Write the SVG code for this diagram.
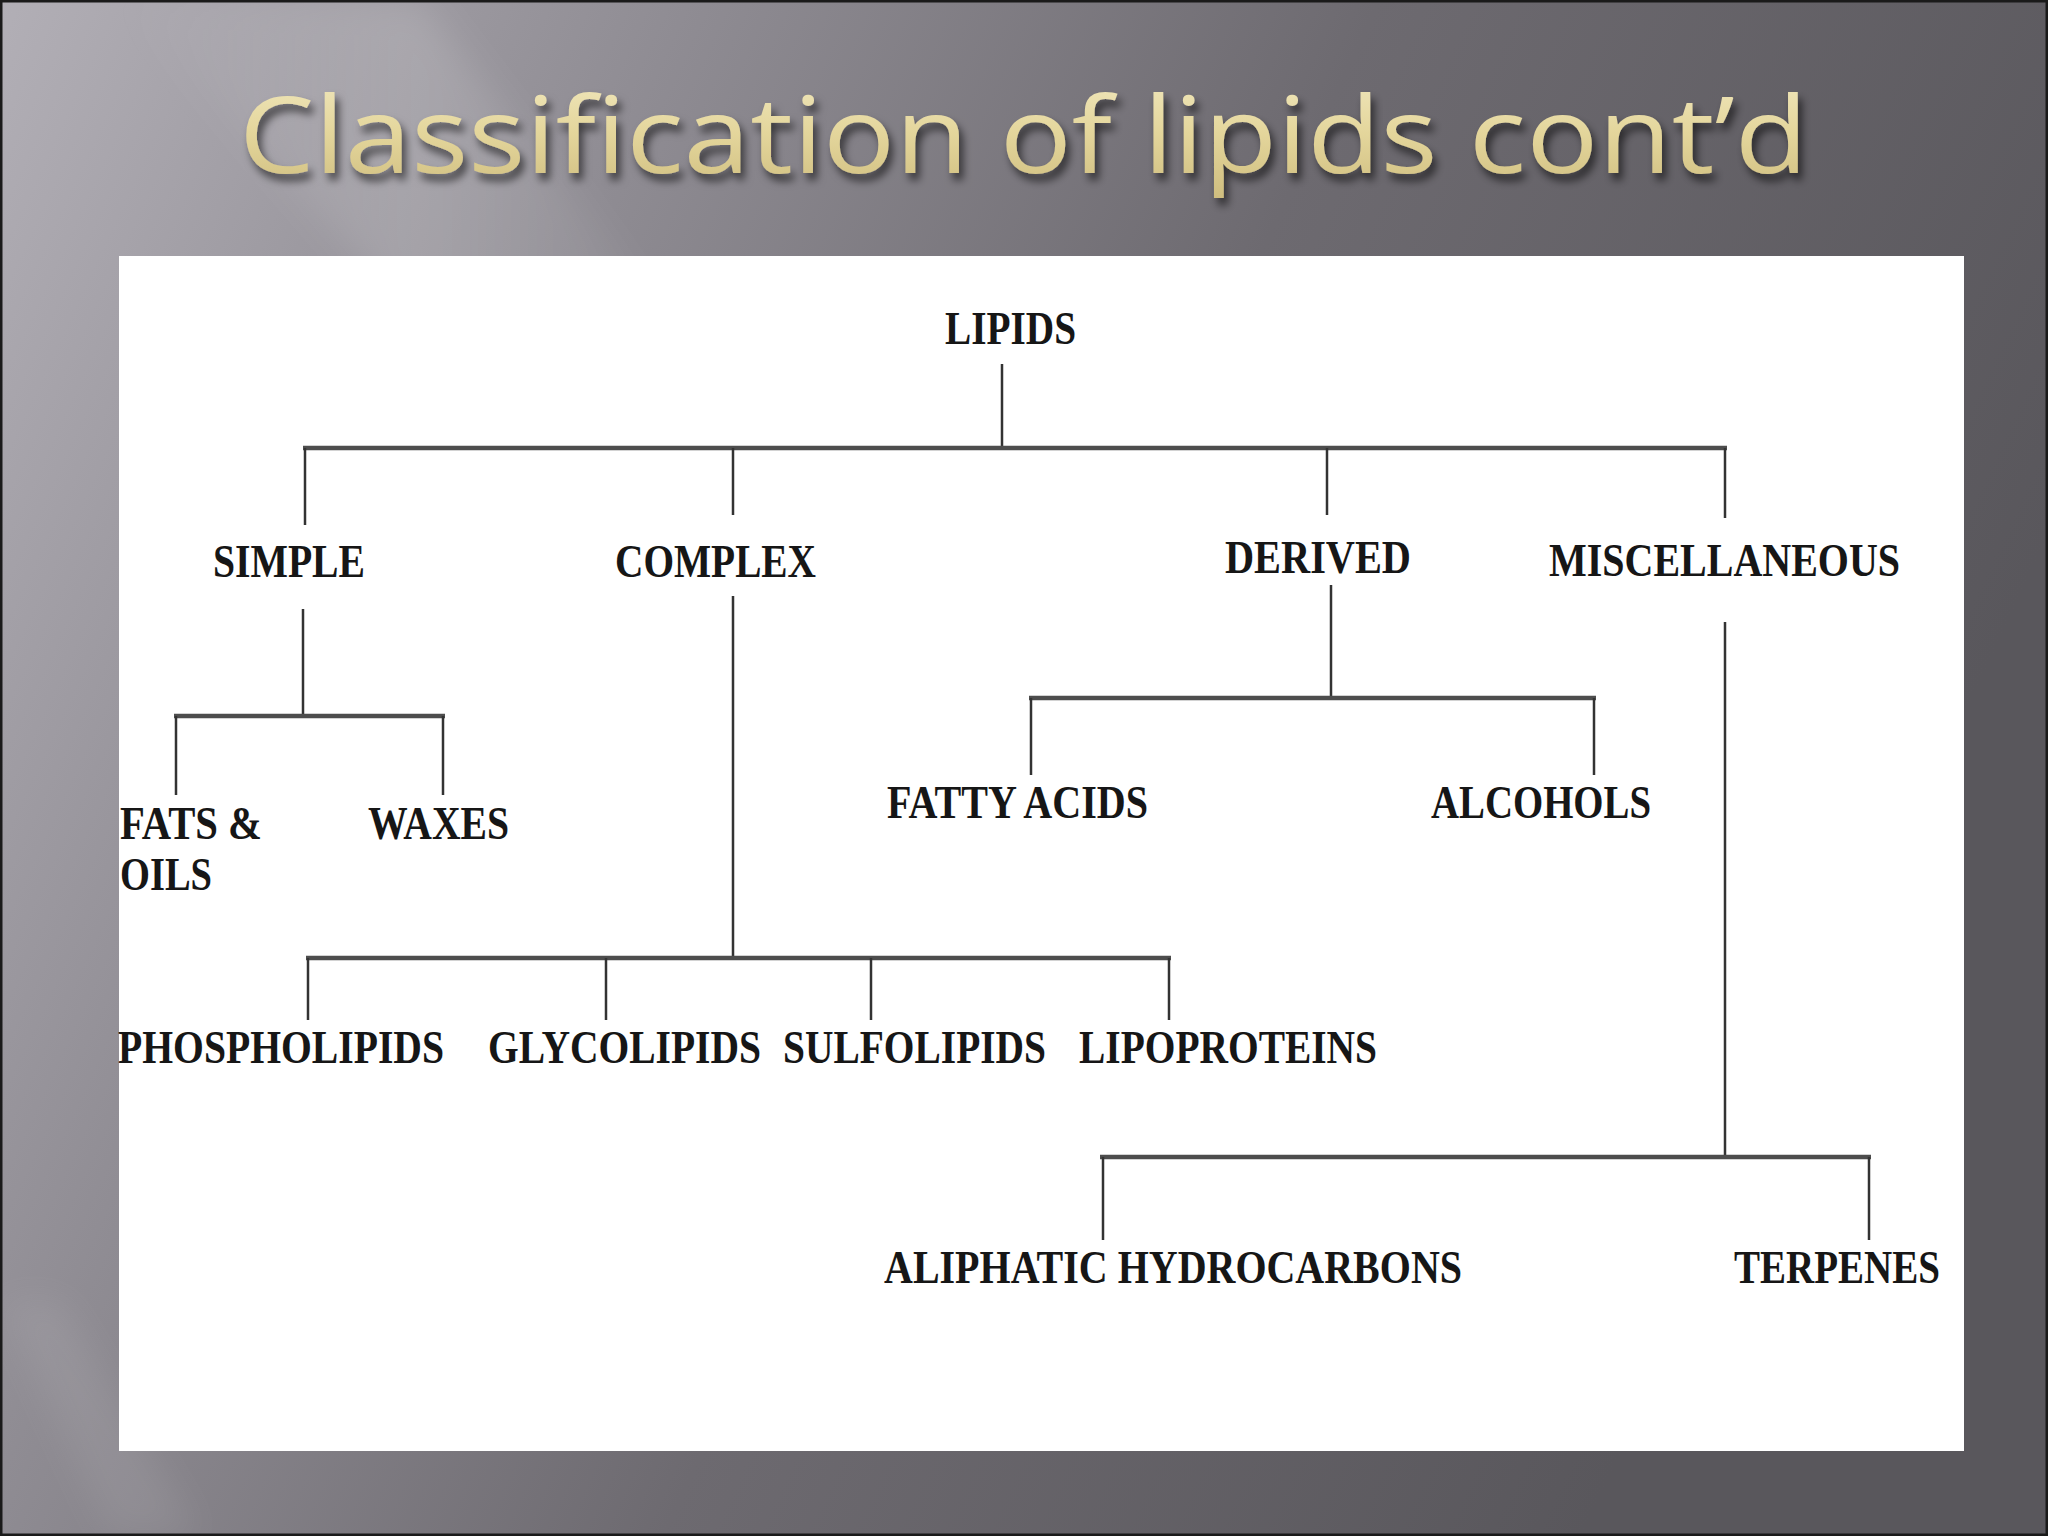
<svg xmlns="http://www.w3.org/2000/svg" width="2048" height="1536" viewBox="0 0 2048 1536">
  <defs>
    <linearGradient id="bg" x1="0" y1="0" x2="1" y2="0.35">
      <stop offset="0" stop-color="#b2afb6"/>
      <stop offset="0.3" stop-color="#8f8c93"/>
      <stop offset="0.6" stop-color="#6d6a70"/>
      <stop offset="1" stop-color="#59575c"/>
    </linearGradient>
    <linearGradient id="band" x1="0" y1="0" x2="1" y2="0">
      <stop offset="0" stop-color="#ffffff" stop-opacity="0"/>
      <stop offset="0.5" stop-color="#ffffff" stop-opacity="0.14"/>
      <stop offset="1" stop-color="#ffffff" stop-opacity="0"/>
    </linearGradient>
    <linearGradient id="gold" x1="0" y1="0" x2="0" y2="1">
      <stop offset="0" stop-color="#f3ebc4"/>
      <stop offset="0.5" stop-color="#e4d69c"/>
      <stop offset="1" stop-color="#cdbb7c"/>
    </linearGradient>
    <filter id="shadow" x="-5%" y="-20%" width="110%" height="150%">
      <feDropShadow dx="4" dy="7" stdDeviation="4" flood-color="#000" flood-opacity="0.6"/>
    </filter>
    <filter id="soft" x="-50%" y="-50%" width="200%" height="200%">
      <feGaussianBlur stdDeviation="18"/>
    </filter>
    <style>
      .lbl { font-family: "Liberation Serif", "Times New Roman", serif; font-size: 47px; font-weight: bold; fill: #161616; }
      .v { stroke: #333; stroke-width: 2.5; fill: none; }
      .h { stroke: #4d4d4d; stroke-width: 4.5; fill: none; }
      .title { font-family: "Open Sans", "Lato", sans-serif; font-size: 106px; fill: url(#gold); }
    </style>
  </defs>

  <!-- background -->
  <rect x="0" y="0" width="2048" height="1536" fill="url(#bg)"/>
  <polygon points="120,0 420,0 720,380 470,380" fill="url(#band)" filter="url(#soft)"/>
  <polygon points="0,1300 60,1300 200,1536 110,1536" fill="#ffffff" opacity="0.07" filter="url(#soft)"/>
  <rect x="1" y="1" width="2046" height="1534" fill="none" stroke="#1a1a1a" stroke-width="3"/>

  <!-- title -->
  <text class="title" x="239" y="173" textLength="1569" lengthAdjust="spacingAndGlyphs" filter="url(#shadow)">Classification of lipids cont’d</text>

  <!-- white panel -->
  <rect x="119" y="256" width="1845" height="1195" fill="#ffffff"/>

  <!-- connectors -->
  <g id="connectors">
    <line class="v" x1="1002" y1="364" x2="1002" y2="448"/>
    <line class="h" x1="303" y1="448" x2="1727" y2="448"/>
    <line class="v" x1="305" y1="448" x2="305" y2="525"/>
    <line class="v" x1="733" y1="448" x2="733" y2="515"/>
    <line class="v" x1="1327" y1="448" x2="1327" y2="515"/>
    <line class="v" x1="1725" y1="448" x2="1725" y2="518"/>

    <line class="v" x1="303" y1="609" x2="303" y2="716"/>
    <line class="h" x1="174" y1="716" x2="445" y2="716"/>
    <line class="v" x1="176" y1="716" x2="176" y2="795"/>
    <line class="v" x1="443" y1="716" x2="443" y2="795"/>

    <line class="v" x1="733" y1="596" x2="733" y2="958"/>
    <line class="h" x1="306" y1="958" x2="1171" y2="958"/>
    <line class="v" x1="308" y1="958" x2="308" y2="1020"/>
    <line class="v" x1="606" y1="958" x2="606" y2="1020"/>
    <line class="v" x1="871" y1="958" x2="871" y2="1020"/>
    <line class="v" x1="1169" y1="958" x2="1169" y2="1020"/>

    <line class="v" x1="1331" y1="585" x2="1331" y2="698"/>
    <line class="h" x1="1029" y1="698" x2="1596" y2="698"/>
    <line class="v" x1="1031" y1="698" x2="1031" y2="775"/>
    <line class="v" x1="1594" y1="698" x2="1594" y2="775"/>

    <line class="v" x1="1725" y1="622" x2="1725" y2="1157"/>
    <line class="h" x1="1100" y1="1157" x2="1871" y2="1157"/>
    <line class="v" x1="1103" y1="1157" x2="1103" y2="1240"/>
    <line class="v" x1="1869" y1="1157" x2="1869" y2="1240"/>
  </g>

  <!-- nodes -->
  <g id="node-lipids"><text class="lbl" x="945" y="344" textLength="131" lengthAdjust="spacingAndGlyphs">LIPIDS</text></g>
  <g id="node-simple"><text class="lbl" x="213" y="577" textLength="152" lengthAdjust="spacingAndGlyphs">SIMPLE</text></g>
  <g id="node-complex"><text class="lbl" x="615" y="577" textLength="201" lengthAdjust="spacingAndGlyphs">COMPLEX</text></g>
  <g id="node-derived"><text class="lbl" x="1225" y="573" textLength="186" lengthAdjust="spacingAndGlyphs">DERIVED</text></g>
  <g id="node-misc"><text class="lbl" x="1549" y="576" textLength="351" lengthAdjust="spacingAndGlyphs">MISCELLANEOUS</text></g>

  <g id="node-fats">
    <text class="lbl" x="120" y="839" textLength="142" lengthAdjust="spacingAndGlyphs">FATS &amp;</text>
    <text class="lbl" x="120" y="890" textLength="92" lengthAdjust="spacingAndGlyphs">OILS</text>
  </g>
  <g id="node-waxes"><text class="lbl" x="368" y="839" textLength="141" lengthAdjust="spacingAndGlyphs">WAXES</text></g>

  <g id="node-fatty-acids"><text class="lbl" x="887" y="818" textLength="261" lengthAdjust="spacingAndGlyphs">FATTY ACIDS</text></g>
  <g id="node-alcohols"><text class="lbl" x="1431" y="818" textLength="220" lengthAdjust="spacingAndGlyphs">ALCOHOLS</text></g>

  <g id="node-phospholipids"><text class="lbl" x="118" y="1063" textLength="326" lengthAdjust="spacingAndGlyphs">PHOSPHOLIPIDS</text></g>
  <g id="node-glycolipids"><text class="lbl" x="488" y="1063" textLength="273" lengthAdjust="spacingAndGlyphs">GLYCOLIPIDS</text></g>
  <g id="node-sulfolipids"><text class="lbl" x="783" y="1063" textLength="263" lengthAdjust="spacingAndGlyphs">SULFOLIPIDS</text></g>
  <g id="node-lipoproteins"><text class="lbl" x="1079" y="1063" textLength="298" lengthAdjust="spacingAndGlyphs">LIPOPROTEINS</text></g>

  <g id="node-aliphatic"><text class="lbl" x="884" y="1283" textLength="578" lengthAdjust="spacingAndGlyphs">ALIPHATIC HYDROCARBONS</text></g>
  <g id="node-terpenes"><text class="lbl" x="1734" y="1283" textLength="206" lengthAdjust="spacingAndGlyphs">TERPENES</text></g>
</svg>
